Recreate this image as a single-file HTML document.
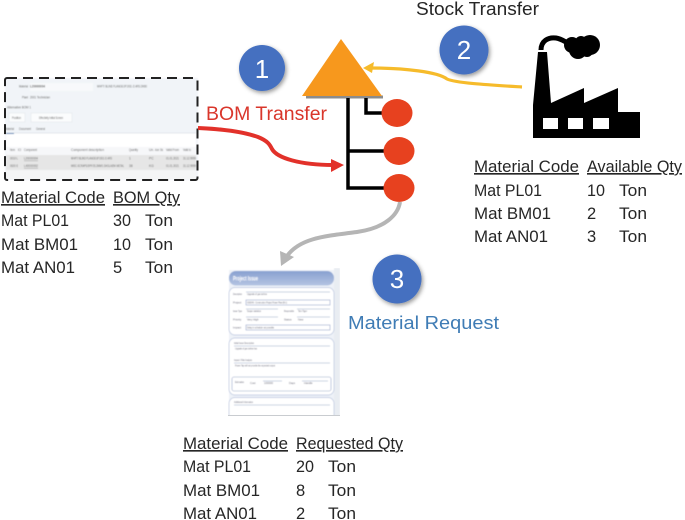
<!DOCTYPE html>
<html><head><meta charset="utf-8"><style>
html,body{margin:0;padding:0;background:#fff;width:685px;height:520px;overflow:hidden}
svg{display:block}
text{font-family:"Liberation Sans",sans-serif}
.t{font-size:16.5px;fill:#262626}
.s{font-size:3.3px;fill:#666}
.f{font-size:2.7px;fill:#667}
</style></head><body>
<svg width="685" height="520" viewBox="0 0 685 520" xmlns="http://www.w3.org/2000/svg">
<defs>
<filter id="sh" x="-30%" y="-30%" width="170%" height="170%"><feDropShadow dx="1.5" dy="2" stdDeviation="2" flood-color="#000" flood-opacity=".4"/></filter>
<filter id="b"><feGaussianBlur stdDeviation=".45"/></filter>
<clipPath id="fc"><rect x="228" y="268" width="112" height="147.500"/></clipPath>
<linearGradient id="hd" x1="0" y1="0" x2="0" y2="1"><stop offset="0" stop-color="#88a0d0"/><stop offset="1" stop-color="#b4c4e2"/></linearGradient>
</defs>

<!-- SAP screenshot -->
<g filter="url(#b)">
<rect x="5" y="78" width="193" height="102" fill="#f1f4f8"/>
<rect x="6" y="133" width="190" height="14" fill="#fff"/>
<rect x="6" y="147" width="190" height="8" fill="#f6f7f9"/>
<rect x="6" y="155" width="190" height="15" fill="#e6e6e6"/>
<rect x="6" y="170" width="190" height="9" fill="#f4f5f6"/>
<rect x="30" y="83" width="63" height="8" fill="#f8f9fb"/>
<rect x="9" y="113" width="16" height="9" fill="#fbfcfd" stroke="#dfe3e8" stroke-width=".5"/>
<rect x="31" y="113" width="41" height="9" fill="#fbfcfd" stroke="#dfe3e8" stroke-width=".5"/>
<line x1="6" y1="133" x2="196" y2="133" stroke="#cfd6dd" stroke-width=".6"/>
<line x1="6" y1="133.500" x2="14" y2="133.500" stroke="#4a7fb5" stroke-width="1"/>
<text class="s" x="19" y="87.500" textLength="9" lengthAdjust="spacingAndGlyphs">Material</text><text class="s" x="30" y="87.500" textLength="15" lengthAdjust="spacingAndGlyphs" font-weight="bold">L20000004</text>
<text class="s" x="97" y="87.500" textLength="50" lengthAdjust="spacingAndGlyphs">WHFT/ BLIND FLANGE/JF1931 /2.4RS.DN50</text>
<text class="s" x="22" y="98.500" textLength="6" lengthAdjust="spacingAndGlyphs">Plant</text><text class="s" x="30" y="98.500" textLength="20" lengthAdjust="spacingAndGlyphs">2001  Technician</text>
<text class="s" x="7" y="108.500" textLength="24" lengthAdjust="spacingAndGlyphs">Alternative BOM  1</text>
<text class="s" x="12" y="119" textLength="9" lengthAdjust="spacingAndGlyphs">Position</text><text class="s" x="39" y="119" textLength="24" lengthAdjust="spacingAndGlyphs">Effectivity Initial Screen</text>
<text class="s" x="5" y="130" textLength="9" lengthAdjust="spacingAndGlyphs">Material</text><text class="s" x="19" y="130" textLength="12" lengthAdjust="spacingAndGlyphs">Document</text><text class="s" x="36" y="130" textLength="9" lengthAdjust="spacingAndGlyphs">General</text>
<text class="s" x="10" y="151" textLength="5" lengthAdjust="spacingAndGlyphs">Item</text><text class="s" x="18" y="151" textLength="3" lengthAdjust="spacingAndGlyphs">ICt</text><text class="s" x="24" y="151" textLength="13" lengthAdjust="spacingAndGlyphs">Component</text><text class="s" x="71" y="151" textLength="33" lengthAdjust="spacingAndGlyphs">Component description</text><text class="s" x="129" y="151" textLength="9" lengthAdjust="spacingAndGlyphs">Quantity</text><text class="s" x="149" y="151">Un.</text><text class="s" x="155" y="151" textLength="4" lengthAdjust="spacingAndGlyphs">Asm</text><text class="s" x="160" y="151" textLength="3" lengthAdjust="spacingAndGlyphs">Sts</text><text class="s" x="166" y="151" textLength="13" lengthAdjust="spacingAndGlyphs">Valid From</text><text class="s" x="183" y="151" textLength="8" lengthAdjust="spacingAndGlyphs">Valid to</text>
<text class="s" x="10" y="159.500" textLength="8" lengthAdjust="spacingAndGlyphs">0010  L</text><text class="s" x="24" y="159.500" textLength="14" lengthAdjust="spacingAndGlyphs" text-decoration="underline">L20000004</text><text class="s" x="71" y="159.500" textLength="41" lengthAdjust="spacingAndGlyphs">WHFT/ BLIND FLANGE/JF1931 /2.4RS</text><text class="s" x="129" y="159.500">1</text><text class="s" x="149" y="159.500">PC</text><text class="s" x="166" y="159.500" textLength="13" lengthAdjust="spacingAndGlyphs">01.01.2021</text><text class="s" x="183" y="159.500" textLength="13" lengthAdjust="spacingAndGlyphs">31.12.9999</text>
<text class="s" x="10" y="167" textLength="8" lengthAdjust="spacingAndGlyphs">0020  E</text><text class="s" x="24" y="167" textLength="14" lengthAdjust="spacingAndGlyphs" text-decoration="underline">L40000002</text><text class="s" x="71" y="167" textLength="53" lengthAdjust="spacingAndGlyphs">MISC-SCRAPS/3PF/15.2MM/1.SHGLA054 METAL</text><text class="s" x="129" y="167">38</text><text class="s" x="149" y="167">KG</text><text class="s" x="166" y="167" textLength="13" lengthAdjust="spacingAndGlyphs">01.01.2021</text><text class="s" x="183" y="167" textLength="13" lengthAdjust="spacingAndGlyphs">31.12.9999</text>
</g>
<rect x="5" y="78" width="192.500" height="102" rx="2" fill="none" stroke="#222" stroke-width="2" stroke-dasharray="10 6"/>

<!-- BOM table -->
<text class="t" x="1" y="203" textLength="104" lengthAdjust="spacingAndGlyphs" text-decoration="underline">Material Code</text>
<text class="t" x="113" y="203" textLength="67" lengthAdjust="spacingAndGlyphs" text-decoration="underline">BOM Qty</text>
<text class="t" x="1" y="226" textLength="68" lengthAdjust="spacingAndGlyphs">Mat PL01</text><text class="t" x="113" y="226" textLength="18" lengthAdjust="spacingAndGlyphs">30</text><text class="t" x="145" y="226" textLength="28" lengthAdjust="spacingAndGlyphs">Ton</text>
<text class="t" x="1" y="250" textLength="77" lengthAdjust="spacingAndGlyphs">Mat BM01</text><text class="t" x="113" y="250" textLength="18" lengthAdjust="spacingAndGlyphs">10</text><text class="t" x="145" y="250" textLength="28" lengthAdjust="spacingAndGlyphs">Ton</text>
<text class="t" x="1" y="273" textLength="74" lengthAdjust="spacingAndGlyphs">Mat AN01</text><text class="t" x="113" y="273">5</text><text class="t" x="145" y="273" textLength="28" lengthAdjust="spacingAndGlyphs">Ton</text>

<!-- Available table -->
<text class="t" x="474" y="172" textLength="105" lengthAdjust="spacingAndGlyphs" text-decoration="underline">Material Code</text>
<text class="t" x="587" y="172" textLength="95" lengthAdjust="spacingAndGlyphs" text-decoration="underline">Available Qty</text>
<text class="t" x="474" y="196" textLength="68" lengthAdjust="spacingAndGlyphs">Mat PL01</text><text class="t" x="587" y="196" textLength="18" lengthAdjust="spacingAndGlyphs">10</text><text class="t" x="619" y="196" textLength="28" lengthAdjust="spacingAndGlyphs">Ton</text>
<text class="t" x="474" y="219" textLength="77" lengthAdjust="spacingAndGlyphs">Mat BM01</text><text class="t" x="587" y="219">2</text><text class="t" x="619" y="219" textLength="28" lengthAdjust="spacingAndGlyphs">Ton</text>
<text class="t" x="474" y="242" textLength="74" lengthAdjust="spacingAndGlyphs">Mat AN01</text><text class="t" x="587" y="242">3</text><text class="t" x="619" y="242" textLength="28" lengthAdjust="spacingAndGlyphs">Ton</text>

<!-- Requested table -->
<text class="t" x="183" y="449" textLength="105" lengthAdjust="spacingAndGlyphs" text-decoration="underline">Material Code</text>
<text class="t" x="296" y="449" textLength="107" lengthAdjust="spacingAndGlyphs" text-decoration="underline">Requested Qty</text>
<text class="t" x="183" y="472" textLength="68" lengthAdjust="spacingAndGlyphs">Mat PL01</text><text class="t" x="296" y="472" textLength="18" lengthAdjust="spacingAndGlyphs">20</text><text class="t" x="328" y="472" textLength="28" lengthAdjust="spacingAndGlyphs">Ton</text>
<text class="t" x="183" y="496" textLength="77" lengthAdjust="spacingAndGlyphs">Mat BM01</text><text class="t" x="296" y="496">8</text><text class="t" x="328" y="496" textLength="28" lengthAdjust="spacingAndGlyphs">Ton</text>
<text class="t" x="183" y="519" textLength="74" lengthAdjust="spacingAndGlyphs">Mat AN01</text><text class="t" x="296" y="519">2</text><text class="t" x="328" y="519" textLength="28" lengthAdjust="spacingAndGlyphs">Ton</text>

<!-- Labels -->
<text x="416" y="15" font-size="18.500" fill="#262626" textLength="123" lengthAdjust="spacingAndGlyphs">Stock Transfer</text>
<text x="206" y="120" font-size="19" fill="#d9362b" textLength="121" lengthAdjust="spacingAndGlyphs">BOM Transfer</text>
<text x="348" y="329" font-size="18.500" fill="#3f7cb5" textLength="151" lengthAdjust="spacingAndGlyphs">Material Request</text>

<!-- Tree -->
<rect x="306" y="95.500" width="77" height="3" fill="#8c8c8c"/>
<polygon points="341,39 302,96 382,96" fill="#f7981d"/>
<path d="M348 98V188H386M348 151H386M366 98V113H384" fill="none" stroke="#000" stroke-width="3.500"/>
<ellipse cx="397" cy="113" rx="15.500" ry="14" fill="#e7411f"/>
<ellipse cx="399" cy="151" rx="15.500" ry="14" fill="#e7411f"/>
<ellipse cx="399" cy="188" rx="15.500" ry="14" fill="#e7411f"/>

<!-- Arrows -->
<path d="M198 128C222 129 244 132 258 137C268 141 270 145 272 149C277 158 300 165 333 165" fill="none" stroke="#e2312a" stroke-width="4"/>
<polygon points="344,165 331,159 331,172" fill="#e2312a"/>
<path d="M522 87C490 85 455 83 447 79C438 72 405 68 370 68" fill="none" stroke="#f6bb2b" stroke-width="3.200"/>
<polygon points="363,68 374,62 372,73" fill="#f6bb2b"/>
<path d="M400 202C398 215 385 228 357 232C325 236 300 238 287 256" fill="none" stroke="#b5b5b5" stroke-width="4"/>
<polygon points="281,266 280,251 294,257" fill="#b5b5b5"/>

<!-- Badges -->
<g filter="url(#sh)"><circle cx="262" cy="68" r="23" fill="#4470c0"/></g>
<text x="262" y="78" font-size="26" fill="#fff" text-anchor="middle">1</text>
<g filter="url(#sh)"><circle cx="464" cy="50" r="24.500" fill="#4470c0"/></g>
<text x="464" y="59" font-size="26" fill="#fff" text-anchor="middle">2</text>
<g filter="url(#sh)"><circle cx="397" cy="279" r="24.500" fill="#4470c0"/></g>
<text x="397" y="288" font-size="26" fill="#fff" text-anchor="middle">3</text>

<!-- Factory -->
<path d="M533 138V105L538 52H547L551 103L584 88V103L618 88V112H640V138Z" fill="#000"/>
<g fill="#fff"><rect x="543" y="118" width="15" height="11"/><rect x="568" y="118" width="15" height="11"/><rect x="593" y="118" width="16" height="11"/></g>
<path d="M541 50C541 41 548 37 556 38C562 39 565 42 570 44" fill="none" stroke="#000" stroke-width="5"/>
<circle cx="572" cy="45" r="8"/><circle cx="590" cy="45" r="10"/><circle cx="578" cy="50" r="9"/><circle cx="587" cy="51" r="6"/><circle cx="581" cy="42" r="6"/>

<!-- Form -->
<g clip-path="url(#fc)"><g filter="url(#b)">
<rect x="229" y="270" width="111" height="147" fill="#eef2f8"/>
<rect x="334" y="268" width="6" height="149" fill="#e9edf2"/>
<rect x="229" y="271" width="105" height="14.500" rx="7" fill="url(#hd)"/>
<text x="233" y="280.500" font-size="6.500" font-weight="bold" fill="#fff" textLength="25" lengthAdjust="spacingAndGlyphs">Project Issue</text>
<g fill="#fff" stroke="#b9c4de" stroke-width=".7">
<rect x="229" y="287.500" width="105" height="47.500" rx="6"/>
<rect x="229" y="338" width="105" height="57" rx="6"/>
<rect x="229" y="397.500" width="105" height="30" rx="6"/>
</g>
<g fill="none" stroke="#94a3c8" stroke-width=".6">
<path d="M246 292H330M246 309H278M297 309H330M246 317H278M297 317H330"/>
<rect x="246" y="300" width="84" height="5"/><rect x="246" y="325" width="84" height="5"/>
<path d="M234 346H330M234 363H330"/>
<rect x="232" y="377" width="99" height="14" rx="2"/>
<path d="M263 381H282M302 381H328M234 405H330"/>
</g>
<text class="f" x="233" y="295" textLength="9" lengthAdjust="spacingAndGlyphs">Description</text><text class="f" x="247" y="295" textLength="20" lengthAdjust="spacingAndGlyphs">Upgrade of gas turbine</text>
<text class="f" x="233" y="303.500">Project</text><text class="f" x="247" y="303.500" textLength="40" lengthAdjust="spacingAndGlyphs">GS0049 - Construction Project Power Plant (B-1)</text>
<text class="f" x="233" y="312" textLength="9" lengthAdjust="spacingAndGlyphs">Issue Type</text><text class="f" x="247" y="312" textLength="14" lengthAdjust="spacingAndGlyphs">Scope variation</text><text class="f" x="284" y="312" textLength="10" lengthAdjust="spacingAndGlyphs">Responsible</text><text class="f" x="298" y="312" textLength="9" lengthAdjust="spacingAndGlyphs">Tom Tiger</text>
<text class="f" x="233" y="320.500">Priority</text><text class="f" x="247" y="320.500">Very High</text><text class="f" x="284" y="320.500">Status</text><text class="f" x="298" y="320.500">New</text>
<text class="f" x="233" y="328.500">Impact</text><text class="f" x="247" y="328.500" textLength="27" lengthAdjust="spacingAndGlyphs">Delay in schedule not possible</text>
<text class="f" x="234" y="344" textLength="20" lengthAdjust="spacingAndGlyphs">Initial Issue Description</text><text class="f" x="235" y="349.500" textLength="22" lengthAdjust="spacingAndGlyphs">Upgrade of gas turbine has</text>
<text class="f" x="234" y="361" textLength="18" lengthAdjust="spacingAndGlyphs">Impact / Risk Analysis</text><text class="f" x="235" y="366.500" textLength="40" lengthAdjust="spacingAndGlyphs">Power Tap will not provide the expected output</text>
<text class="f" x="235" y="383" textLength="9" lengthAdjust="spacingAndGlyphs">Estimation</text><text class="f" x="250" y="384">Cost</text><text class="f" x="264" y="384">100000</text><text class="f" x="289" y="384">Days</text><text class="f" x="304" y="384">Handle</text>
<text class="f" x="234" y="403" textLength="19" lengthAdjust="spacingAndGlyphs">Additional Information</text>
</g></g>
<line x1="228" y1="415.500" x2="340" y2="415.500" stroke="#c9ccd0" stroke-width="1"/>
</svg>
</body></html>
